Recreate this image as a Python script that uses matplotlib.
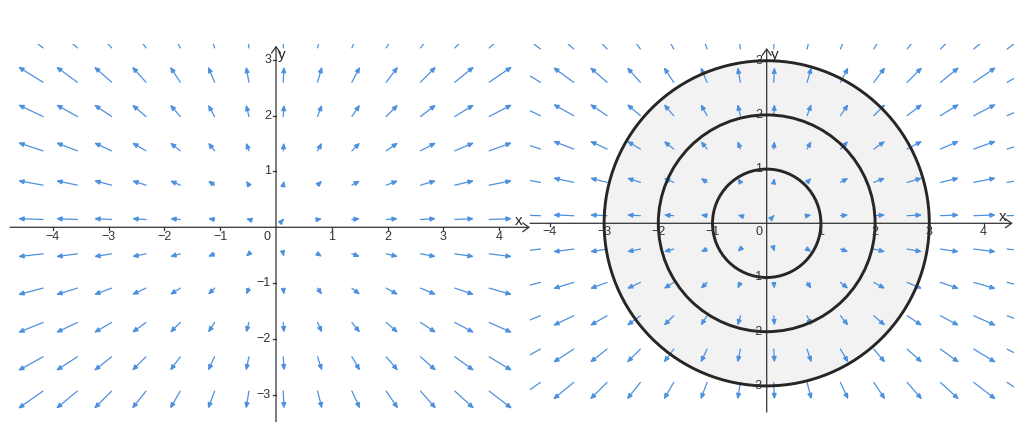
import matplotlib
matplotlib.use('Agg')
import matplotlib.pyplot as plt
from matplotlib.patches import FancyArrowPatch, Circle

plt.rcParams['font.family'] = ['Liberation Sans', 'DejaVu Sans']

# grid of arrow tails (same in both views)
x_tails = [-4.79, -4.175, -3.56, -2.945, -2.33, -1.715, -1.10, -0.485,
           0.13, 0.745, 1.36, 1.975, 2.59, 3.205, 3.82, 4.435]
y_tails = [-3.55, -2.935, -2.32, -1.705, -1.09, -0.475,
           0.14, 0.755, 1.37, 1.985, 2.60, 3.215]
# field F(x, y) = k * (x, y)
field_k = 0.107

x_ticks = [-4, -3, -2, -1, 1, 2, 3, 4]
y_ticks = [-3, -2, -1, 1, 2, 3]
radii = [1, 2, 3]

W, H = 1024, 422
vec_color = '#4d91de'
axis_color = '#333333'

fig = plt.figure(figsize=(W / 100, H / 100), dpi=100)


def make_axes(px_left, px_right, px_top, px_bottom, ox, oy, unit):
    ax = fig.add_axes([px_left / W, (H - px_bottom) / H,
                       (px_right - px_left) / W, (px_bottom - px_top) / H])
    ax.set_xlim((px_left - ox) / unit, (px_right - ox) / unit)
    ax.set_ylim((oy - px_bottom) / unit, (oy - px_top) / unit)
    ax.axis('off')
    return ax


def draw_field(ax):
    for x in x_tails:
        for y in y_tails:
            ar = FancyArrowPatch((x, y), (x + field_k * x, y + field_k * y),
                                 arrowstyle='-|>,head_length=0.32,head_width=0.14',
                                 mutation_scale=10, color=vec_color, lw=0.9,
                                 shrinkA=0, shrinkB=0, zorder=3)
            ax.add_patch(ar)


def draw_axes(ax, unit, x_end, y_end, lab_dy, lab_dx, zero_pos, xl_pos, yl_pos):
    x0, x1 = ax.get_xlim()
    y0, y1 = ax.get_ylim()
    for start, end in [((x0, 0), (x_end, 0)), ((0, y0), (0, y_end))]:
        a = FancyArrowPatch(start, end, arrowstyle='->,head_length=0.45,head_width=0.32',
                            mutation_scale=10, color=axis_color, lw=0.9,
                            shrinkA=0, shrinkB=0, zorder=4, clip_on=False)
        ax.add_patch(a)
    t = 3 / unit
    for v in x_ticks:
        ax.plot([v, v], [0, -t], color=axis_color, lw=0.9, zorder=4)
        ax.text(v, lab_dy, str(v).replace('-', '\u2212'), ha='center', va='center',
                fontsize=9, color=axis_color, zorder=6)
    for v in y_ticks:
        ax.plot([0, -t], [v, v], color=axis_color, lw=0.9, zorder=4)
        ax.text(lab_dx, v, str(v).replace('-', '\u2212'), ha='right', va='center',
                fontsize=9, color=axis_color, zorder=6)
    ax.text(zero_pos[0], zero_pos[1], '0', ha='center', va='center',
            fontsize=9, color=axis_color, zorder=6)
    ax.text(xl_pos[0], xl_pos[1], 'x', ha='center', va='center',
            fontsize=11, color='#222222', zorder=6)
    ax.text(yl_pos[0], yl_pos[1], 'y', ha='center', va='center',
            fontsize=11, color='#222222', zorder=6)


# left view
u1 = 55.8
ax1 = make_axes(10, 522, 44, 422, 276, 227.3, u1)
draw_field(ax1)
draw_axes(ax1, u1, (530 - 276) / u1, (227.3 - 45.7) / u1,
          -10 / u1, -5 / u1, (-0.167, -10 / u1), (4.355, 0.113), (0.102, 3.088))

# right view with circles
u2 = 54.2
ax2 = make_axes(530, 1014, 44, 412, 766.7, 223.3, u2)
ax2.add_patch(Circle((0, 0), max(radii), facecolor='#f2f2f2', edgecolor='none', zorder=1))
draw_field(ax2)
draw_axes(ax2, u2, (1012.7 - 766.7) / u2, (223.3 - 48) / u2,
          -8.5 / u2, -4.5 / u2, (-0.148, -0.155), (4.36, 0.116), (0.153, 3.105))
for r in radii:
    ax2.add_patch(Circle((0, 0), r, facecolor='none', edgecolor='#262626',
                         lw=2.1, zorder=5))

fig.savefig('out.png', dpi=100)
